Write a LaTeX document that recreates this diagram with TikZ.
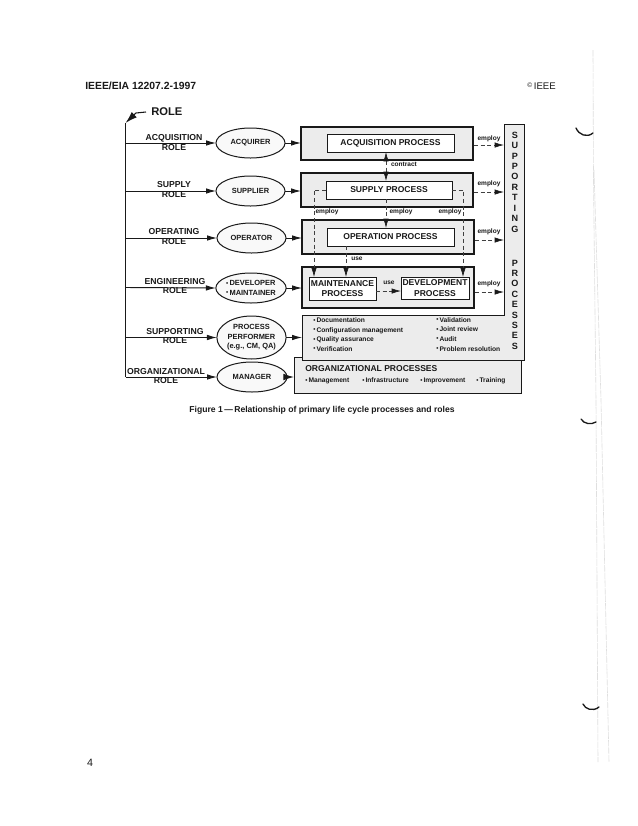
\documentclass[tikz,border=0pt]{standalone}
\usepackage{fontspec}
\setmainfont{Liberation Sans}
\usetikzlibrary{arrows.meta,shapes.geometric,calc}
\newcommand\fs[1]{\fontsize{#1}{#1}\selectfont}
\newcommand\bl{{\fontsize{4.6}{4.6}\selectfont\raisebox{.5pt}{•}}\,}
% name, x1, y1, x2, y2, style, text
\newcommand\boxnode[7]{\node[#6,minimum width={(#4-#2)*.75pt},minimum height={(#5-#3)*.75pt}] (#1) at ({(#2+#4)/2},{(#3+#5)/2}) {#7};}
\definecolor{stip}{gray}{0.925}
\definecolor{ink}{gray}{0.1}
\tikzset{
  outerbox/.style={rectangle,draw=ink,line width=1.25pt,fill=stip,inner sep=0pt,outer sep=0pt},
  innerbox/.style={rectangle,draw=ink,line width=.65pt,fill=white,inner sep=0pt,outer sep=0pt,align=center,font=\bfseries\fs{6.4},text=ink},
  rolenode/.style={ellipse,draw=ink,line width=.75pt,fill=gray!5,inner sep=0pt,outer sep=0pt,align=center,font=\bfseries\fs{5.6},text=ink},
  rolelabel/.style={align=center,font=\bfseries\fs{6.5},text=ink,inner sep=0pt},
  small/.style={font=\bfseries\fs{4.9},text=ink,inner sep=0pt,text height=3.6pt,text depth=1pt},
  itemtext/.style={font=\bfseries\fs{5},text=ink,inner sep=0pt,anchor=west,text height=3.6pt,text depth=1pt},
  letter/.style={font=\bfseries\fs{6.8},text=ink,inner sep=0pt},
  solidarrow/.style={draw=ink,line width=.7pt,-{Latex[length=7.5pt,width=4.2pt]}},
  dashline/.style={draw=gray!50!black,line width=.5pt,dash pattern=on 3pt off 2pt},
  dasharrow/.style={dashline,-{Latex[length=7pt,width=4pt,color=ink,fill=ink]}},
  scanline/.style={draw=gray!25,line width=.45pt,dash pattern=on 5pt off .7pt},
  scanmark/.style={draw=ink,line width=1pt,line cap=round},
}
\begin{document}
\begin{tikzpicture}[x=.75pt,y=-.75pt]
\useasboundingbox[fill=white] (0,0) rectangle (638,826);

% page furniture
\node[inner sep=0pt,anchor=west,font=\bfseries\fs{7.8},text=ink] (head) at (85,86) {IEEE/EIA 12207.2-1997};
\node[inner sep=0pt,anchor=east,font=\fs{7.2},text=ink] (copy) at (556,86) {\raisebox{1.5pt}{\fs{5}©}\,IEEE};
\node[inner sep=0pt,font=\fs{8},text=ink] (pageno) at (90,763) {4};
\node[inner sep=0pt,anchor=west,font=\bfseries\fs{8.4},text=ink] (roletitle) at (151,112) {ROLE};
\node[inner sep=0pt,font=\bfseries\fs{6.45},text=ink] (caption) at (322,410) {Figure 1\,—\,Relationship of primary life cycle processes and roles};

% scan artefacts at the right edge
\draw[scanline] (593,50) -- (593.5,180) -- (596,400) -- (598,762);
\draw[scanline] (594,170) -- (601,400) -- (609,762);
\draw[scanmark] (576,128) .. controls (579,135) and (587,138) .. (593,133);
\draw[scanmark] (581,419) .. controls (584,424) and (591,425) .. (596,422);
\draw[scanmark] (583,704) .. controls (585,709) and (593,712) .. (599,707);

% organizational box, then the L-shaped supporting area on top of it
\boxnode{org}{294}{357}{521}{393}{rectangle,draw=ink,line width=.7pt,fill=stip,inner sep=0pt,outer sep=0pt}{}
\filldraw[draw=ink,line width=.7pt,fill=stip] (504,124) -- (524,124) -- (524,360) -- (302,360) -- (302,315) -- (504,315) -- cycle;
\boxnode{col}{504}{124}{524}{360}{rectangle,inner sep=0pt,outer sep=0pt}{}
\boxnode{supbox}{302}{315}{504}{360}{rectangle,inner sep=0pt,outer sep=0pt}{}

% process boxes
\boxnode{acqO}{301}{127}{473}{160}{outerbox}{}
\boxnode{supO}{301}{173}{473}{207}{outerbox}{}
\boxnode{opeO}{302}{220}{474}{254}{outerbox}{}
\boxnode{engO}{302}{267}{474}{308}{outerbox}{}
\boxnode{acqI}{327}{134}{454}{152}{innerbox}{ACQUISITION PROCESS}
\boxnode{supI}{326}{181}{452}{199}{innerbox}{SUPPLY PROCESS}
\boxnode{opeI}{327}{228}{454}{246}{innerbox}{OPERATION PROCESS}
\boxnode{mntI}{309}{277}{376}{300}{innerbox}{MAINTENANCE\\[1.2pt]PROCESS}
\boxnode{devI}{401}{277}{469}{299}{innerbox}{DEVELOPMENT\\[1.2pt]PROCESS}

% role ellipses
\boxnode{acquirer}{216}{128}{285}{158}{rolenode}{ACQUIRER}
\boxnode{supplier}{216}{176}{285}{206}{rolenode}{SUPPLIER}
\boxnode{operator}{217}{223}{286}{253}{rolenode}{OPERATOR}
\boxnode{developer}{217}{273}{285}{303}{rolenode,align=left}{\bl DEVELOPER\\[1.6pt]\bl MAINTAINER}
\boxnode{performer}{217}{316}{286}{359}{rolenode}{PROCESS\\[1.6pt]PERFORMER\\[1.6pt](e.g., CM, QA)}
\boxnode{manager}{217}{362}{287}{392}{rolenode}{MANAGER}

% role labels
\node[rolelabel] (l1) at (174,142.5) {ACQUISITION\\[.8pt]ROLE};
\node[rolelabel] (l2) at (174,189.5) {SUPPLY\\[.8pt]ROLE};
\node[rolelabel] (l3) at (174,236.5) {OPERATING\\[.8pt]ROLE};
\node[rolelabel] (l4) at (175,286) {ENGINEERING\\[.8pt]ROLE};
\node[rolelabel] (l5) at (175,336) {SUPPORTING\\[.8pt]ROLE};
\node[rolelabel] (l6) at (166,376) {ORGANIZATIONAL\\[.8pt]ROLE};

% trunk
\coordinate (tail) at (146,112);
\coordinate (bend) at (136,113);
\coordinate (top) at (125.5,123);
\coordinate (t1) at (125.5,143);
\coordinate (t2) at (125.5,191);
\coordinate (t3) at (125.5,238);
\coordinate (t4) at (125.5,287.5);
\coordinate (t5) at (125.5,337.5);
\coordinate (t6) at (125.5,377);
\draw[draw=ink,line width=.8pt,line join=miter] (top) -- (t6);
\draw[draw=ink,line width=.8pt,-{Latex[length=9pt,width=5.5pt]}] (tail) -- (bend) -- (top);
\foreach \a/\b in {t1/acquirer,t2/supplier,t3/operator,t4/developer,t5/performer,t6/manager}
  \draw[solidarrow] (\a) -- (\b.west);
\foreach \a/\b in {acquirer/acqO,supplier/supO,operator/opeO,developer/engO}
  \draw[solidarrow] (\a.east) -- (\a.east -| \b.west);
\draw[solidarrow] (performer.east) -- (performer.east -| supbox.west);
\draw[solidarrow,-{Latex[length=8pt,width=5pt]}] (manager.east) -- (manager.east -| org.west);

% employ arrows to the supporting column
\coordinate (e1) at (474,145);
\coordinate (e2) at (474,192);
\coordinate (e3) at (475,240);
\coordinate (e4) at (475,292);
\foreach \e in {e1,e2,e3,e4}
  \draw[dasharrow] (\e) -- (\e -| col.west);
\node[small] (le1) at (489,139) {employ};
\node[small] (le2) at (489,184) {employ};
\node[small] (le3) at (489,232) {employ};
\node[small] (le4) at (489,284) {employ};

% contract
\coordinate (c1) at (386,152);
\coordinate (c2) at (386,181);
\coordinate (c3) at (386,199);
\coordinate (c4) at (386,228);
\draw[dashline,{Latex[length=7pt,width=4pt,color=ink,fill=ink]}-{Latex[length=7pt,width=4pt,color=ink,fill=ink]}] (c1) -- (c2);
\draw[dasharrow] (c3) -- (c4);
\node[small] (lc) at (404,165) {contract};

% employ / use inside
\coordinate (sl) at (314,190);
\coordinate (sr) at (463,190);
\draw[dasharrow] (supI.west) -- (sl) -- (mntI.north -| sl);
\draw[dasharrow] (supI.east) -- (sr) -- (devI.north -| sr);
\coordinate (u1) at (346,246);
\draw[dasharrow] (u1) -- (mntI.north -| u1);
\coordinate (m1) at (376,291);
\draw[dasharrow] (m1) -- (m1 -| devI.west);
\node[small] (le5) at (327,212) {employ};
\node[small] (le6) at (401,212) {employ};
\node[small] (le7) at (450,212) {employ};
\node[small] (lu1) at (357,258.5) {use};
\node[small] (lu2) at (389,283) {use};

% supporting letters
\foreach \ch [count=\i from 0] in {S,U,P,P,O,R,T,I,N,G}
  \node[letter] (sa\i) at (515,{135+10.44*\i}) {\ch};
\foreach \ch [count=\i from 0] in {P,R,O,C,E,S,S,E,S}
  \node[letter] (sb\i) at (515,{263+10.4*\i}) {\ch};

% supporting lists
\node[itemtext] (i1) at (313,321) {\bl Documentation};
\node[itemtext] (i2) at (313,330.5) {\bl Configuration management};
\node[itemtext] (i3) at (313,340) {\bl Quality assurance};
\node[itemtext] (i4) at (313,349.5) {\bl Verification};
\node[itemtext] (i5) at (436,320.5) {\bl Validation};
\node[itemtext] (i6) at (436,330) {\bl Joint review};
\node[itemtext] (i7) at (436,339.5) {\bl Audit};
\node[itemtext] (i8) at (436,349.5) {\bl Problem resolution};

% organizational text
\node[inner sep=0pt,anchor=west,font=\bfseries\fs{6.4},text=ink] (ot) at (305,369) {ORGANIZATIONAL PROCESSES};
\node[itemtext] (o1) at (305,381) {\bl Management};
\node[itemtext] (o2) at (362,381) {\bl Infrastructure};
\node[itemtext] (o3) at (420,381) {\bl Improvement};
\node[itemtext] (o4) at (476,381) {\bl Training};
\end{tikzpicture}
\end{document}
